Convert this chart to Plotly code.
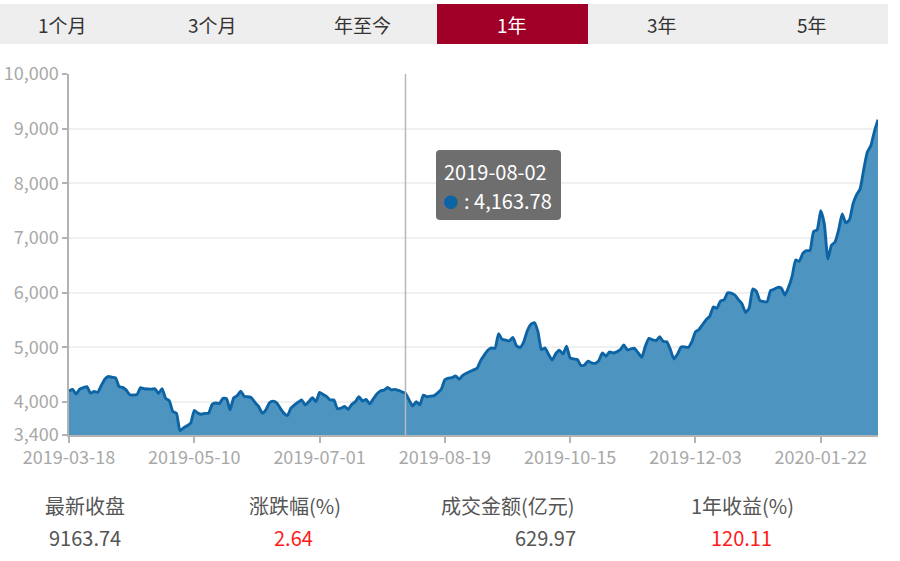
import pandas as pd
import plotly.graph_objects as go

# ---------------- data ----------------
holidays = ["2019-04-05", "2019-05-01", "2019-05-02", "2019-05-03", "2019-06-07",
            "2019-09-13", "2019-10-01", "2019-10-02", "2019-10-03", "2019-10-04",
            "2019-10-07", "2020-01-01", "2020-01-24", "2020-01-27", "2020-01-28",
            "2020-01-29", "2020-01-30", "2020-01-31"]
bdays = pd.bdate_range("2019-03-18", "2020-02-21")
dates = [d.strftime("%Y-%m-%d") for d in bdays if d.strftime("%Y-%m-%d") not in holidays]

close = [
    4204, 4235, 4150, 4240, 4265, 4283, 4165, 4195, 4180, 4300,
    4420, 4470, 4455, 4445, 4285, 4270, 4220, 4135, 4130, 4140,
    4265, 4245, 4240, 4238, 4245, 4160, 4245, 4070, 4030, 3830,
    3800, 3480, 3530, 3570, 3620, 3850, 3800, 3780, 3795, 3800,
    3960, 3985, 3975, 4070, 4065, 3860, 4080, 4120, 4200, 4105,
    4100, 4080, 3990, 3920, 3800, 3860, 3990, 4020, 3990, 3890,
    3800, 3755, 3890, 3950, 4000, 4040, 3950, 4010, 4080, 4010,
    4180, 4140, 4100, 4040, 4040, 3880, 3890, 3920, 3870, 3960,
    4010, 4100, 4020, 4050, 3970, 4060, 4150, 4205, 4220, 4270,
    4225, 4235, 4215, 4190, 4163.78, 4040, 3930, 4010, 3950, 4130,
    4100, 4110, 4120, 4170, 4235, 4410, 4440, 4450, 4480, 4420,
    4490, 4530, 4560, 4590, 4620, 4760, 4860, 4950, 4990, 4985,
    5250, 5150, 5135, 5120, 5185, 5030, 5000, 5100, 5300, 5420,
    5455, 5290, 4960, 4990, 4870, 4770, 4890, 4950, 4880, 5025,
    4810, 4790, 4780, 4670, 4680, 4750, 4720, 4710, 4760, 4900,
    4840, 4920, 4900, 4920, 4960, 5045, 4955, 4975, 4985, 4900,
    4820, 5020, 5165, 5140, 5125, 5195, 5110, 5105, 4960, 4790,
    4880, 5010, 5010, 5000, 5105, 5285, 5330, 5420, 5510, 5570,
    5740, 5720, 5850, 5870, 6000, 5995, 5960, 5875, 5800, 5640,
    5720, 6070, 6030, 5860, 5840, 5835, 6040, 6065, 6100, 6085,
    5960, 6100, 6300, 6600, 6575, 6720, 6770, 6775, 7120, 7150,
    7500, 7260, 6620, 6870, 6930, 7150, 7440, 7280, 7330, 7620,
    7790, 7900, 8250, 8570, 8690, 8950, 9163.74,
]
n = min(len(dates), len(close))
dates = dates[:n]
close = close[:n]

y_ticks = [3400, 4000, 5000, 6000, 7000, 8000, 9000, 10000]
tabs = ["1个月", "3个月", "年至今", "1年", "3年", "5年"]
active_tab = "1年"
hover_date = "2019-08-02"
stat_labels = ["最新收盘", "涨跌幅(%)", "成交金额(亿元)", "1年收益(%)"]
stat_values = ["9163.74", "2.64", "629.97", "120.11"]
stat_colors = ["#555555", "#ff1a1a", "#555555", "#ff1a1a"]

# ---------------- layout geometry ----------------
W, H = 900, 561
ML, MR, MT, MB = 69, 22, 74, 126
PW, PH = W - ML - MR, H - MT - MB
FONT = "Microsoft YaHei, Noto Sans CJK SC, sans-serif"


def px(x):
    return (x - ML) / PW


def py(y):
    return (H - MB - y) / PH


fig = go.Figure()
fig.add_trace(go.Scatter(
    x=dates, y=close, mode="lines",
    line=dict(color="#0d64a5", width=2.9, shape="spline", smoothing=0.5),
    fill="tozeroy", fillcolor="#4d94c0",
    hoverinfo="skip", showlegend=False,
))

shapes = []
annotations = []

# tab bar
shapes.append(dict(type="rect", xref="paper", yref="paper", x0=px(0), x1=px(888),
                   y0=py(44), y1=py(4), fillcolor="#eeeeee", line=dict(width=0), layer="below"))
for i, t in enumerate(tabs):
    cx = 62 + 150 * i
    if t == active_tab:
        shapes.append(dict(type="rect", xref="paper", yref="paper", x0=px(cx - 75), x1=px(cx + 76),
                           y0=py(44), y1=py(4), fillcolor="#a00028", line=dict(width=0), layer="below"))
    annotations.append(dict(x=px(cx), y=py(24), xref="paper", yref="paper", text=t,
                            showarrow=False, xanchor="center", yanchor="middle",
                            font=dict(family=FONT, size=19,
                                      color="#ffffff" if t == active_tab else "#333333")))

# axis pointer line
hi = dates.index(hover_date)
shapes.append(dict(type="line", xref="x", yref="paper", x0=hi, x1=hi, y0=0, y1=1,
                   line=dict(color="#b8b8b8", width=1.5), layer="above"))

# tooltip box (rounded)
x0, x1, y0, y1, r = px(436), px(561), py(220), py(150), 4
rx, ry = r / PW, r / PH
path = (f"M {x0+rx},{y0} L {x1-rx},{y0} Q {x1},{y0} {x1},{y0+ry} L {x1},{y1-ry} "
        f"Q {x1},{y1} {x1-rx},{y1} L {x0+rx},{y1} Q {x0},{y1} {x0},{y1-ry} "
        f"L {x0},{y0+ry} Q {x0},{y0} {x0+rx},{y0} Z")
shapes.append(dict(type="path", xref="paper", yref="paper", path=path,
                   fillcolor="#6e6e6e", line=dict(width=0), layer="above"))
annotations.append(dict(x=px(442), y=py(171), xref="paper", yref="paper", text=hover_date,
                        showarrow=False, xanchor="left", yanchor="middle",
                        font=dict(family=FONT, size=20, color="#ffffff")))
annotations.append(dict(x=px(441), y=py(201), xref="paper", yref="paper",
                        text="●",
                        showarrow=False, xanchor="left", yanchor="middle",
                        font=dict(family=FONT, size=15, color="#0d64a5")))
annotations.append(dict(x=px(462), y=py(200), xref="paper", yref="paper",
                        text=f": {close[hi]:,.2f}",
                        showarrow=False, xanchor="left", yanchor="middle",
                        font=dict(family=FONT, size=20, color="#ffffff")))

# bottom stats
stat_x = [85, 295, 508, 742]
val_x = [85, 293, 545, 741]
for lab, val, col, lx, vx in zip(stat_labels, stat_values, stat_colors, stat_x, val_x):
    annotations.append(dict(x=px(lx), y=py(505), xref="paper", yref="paper", text=lab,
                            showarrow=False, xanchor="center", yanchor="middle",
                            font=dict(family=FONT, size=20, color="#555555")))
    annotations.append(dict(x=px(vx), y=py(537), xref="paper", yref="paper", text=val,
                            showarrow=False, xanchor="center", yanchor="middle",
                            font=dict(family=FONT, size=20, color=col)))

fig.update_layout(
    width=W, height=H,
    margin=dict(l=ML, r=MR, t=MT, b=MB, pad=0, autoexpand=False),
    paper_bgcolor="#ffffff", plot_bgcolor="#ffffff",
    font=dict(family=FONT),
    shapes=shapes, annotations=annotations,
    xaxis=dict(type="category", range=[0, n - 1], tickmode="array",
               tickvals=dates[0::35], ticktext=dates[0::35], automargin=False,
               showgrid=False, showline=True, linecolor="#b3b3b3", linewidth=1.5,
               ticks="outside", ticklen=6, tickcolor="#b3b3b3", tickwidth=1.5,
               tickfont=dict(family=FONT, size=18, color="#a8a8a8"), zeroline=False),
    yaxis=dict(range=[3400, 10000], tickmode="array", tickvals=y_ticks, automargin=False,
               tickformat=",d", showgrid=True, gridcolor="#f0f0f0", gridwidth=1.5,
               showline=True, linecolor="#b3b3b3", linewidth=1.5,
               ticks="outside", ticklen=5, tickcolor="#b3b3b3", tickwidth=1.5,
               tickfont=dict(family=FONT, size=18, color="#a8a8a8"), zeroline=False),
)

fig.write_html("out.html")
